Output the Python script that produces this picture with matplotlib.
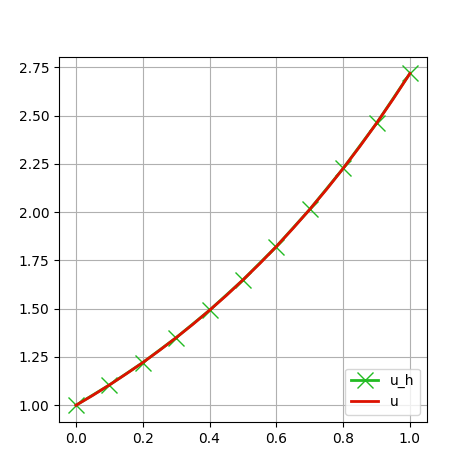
import matplotlib
matplotlib.use("Agg")
import matplotlib.pyplot as plt

xh = [0.0, 0.1, 0.2, 0.3, 0.4, 0.5, 0.6, 0.7, 0.8, 0.9, 1.0]
uh = [1.000, 1.105, 1.221, 1.350, 1.492, 1.649, 1.822, 2.014, 2.226, 2.460, 2.718]
xu = [0.0, 0.05, 0.1, 0.15, 0.2, 0.25, 0.3, 0.35, 0.4, 0.45, 0.5, 0.55, 0.6, 0.65, 0.7, 0.75, 0.8, 0.85, 0.9, 0.95, 1.0]
uu = [1.000, 1.051, 1.105, 1.162, 1.221, 1.284, 1.350, 1.419, 1.492, 1.568, 1.649,
      1.733, 1.822, 1.916, 2.014, 2.117, 2.226, 2.340, 2.460, 2.586, 2.718]

fig, ax = plt.subplots(figsize=(4.74, 4.74), dpi=100)
ax.plot(xh, uh, color="#22bb22", marker="x", markersize=11, linewidth=2, label="u_h")
ax.plot(xu, uu, color="#dd1100", linewidth=2, label="u")
ax.grid(True)
ax.legend(loc="lower right")
fig.savefig("out.png")
